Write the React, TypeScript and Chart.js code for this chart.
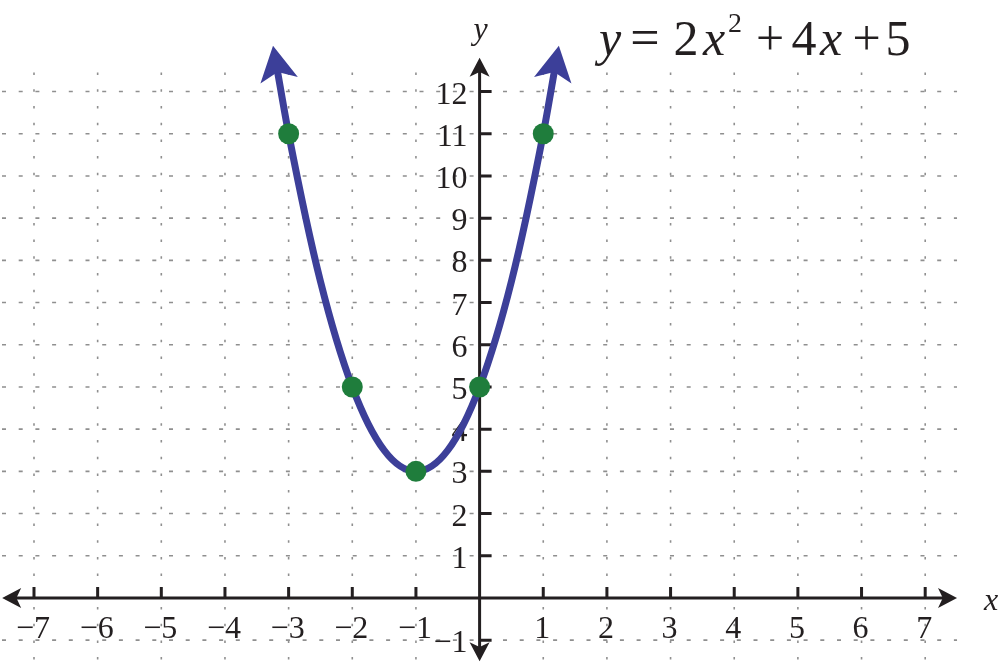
import React, { useEffect, useRef } from "react";
import { Chart, registerables } from "chart.js";

Chart.register(...registerables);

// Curve y = 2x^2 + 4x + 5
const curveX = [-3.2, -3, -2.5, -2, -1.5, -1, -0.5, 0, 0.5, 1, 1.2];
const curveY = [12.7, 11, 7.5, 5, 3.5, 3, 3.5, 5, 7.5, 11, 12.7];

// Marked points
const pointX = [-3, -2, -1, 0, 1];
const pointY = [11, 5, 3, 5, 11];

// Tick labels
const xTicks = [-7, -6, -5, -4, -3, -2, -1, 1, 2, 3, 4, 5, 6, 7];
const yTicks = [-1, 1, 2, 3, 4, 5, 6, 7, 8, 9, 10, 11, 12];
const gridX = [-7, -6, -5, -4, -3, -2, -1, 1, 2, 3, 4, 5, 6, 7];
const gridY = [-1, 1, 2, 3, 4, 5, 6, 7, 8, 9, 10, 11, 12];

const X_MIN = -7.534;
const X_MAX = 8.175;
const Y_MIN = -1.565;
const Y_MAX = 14.17;

const INK = "#231f20";
const BLUE = "#3c3f99";
const GREEN = "#1f7d3c";
const SERIF = '"Liberation Serif", "DejaVu Serif", serif';

function minusify(n: number) {
  return n < 0 ? "\u2212" + Math.abs(n) : String(n);
}

function arrowHead(
  ctx: CanvasRenderingContext2D,
  tx: number,
  ty: number,
  dx: number,
  dy: number,
  L: number,
  W: number,
  notch: number,
  color: string
) {
  const nx = -dy;
  const ny = dx;
  ctx.save();
  ctx.fillStyle = color;
  ctx.beginPath();
  ctx.moveTo(tx, ty);
  ctx.lineTo(tx - dx * L + nx * W, ty - dy * L + ny * W);
  ctx.lineTo(tx - dx * L * notch, ty - dy * L * notch);
  ctx.lineTo(tx - dx * L - nx * W, ty - dy * L - ny * W);
  ctx.closePath();
  ctx.fill();
  ctx.restore();
}

const decorPlugin = {
  id: "decor",
  beforeDatasetsDraw(chart: any) {
    const ctx: CanvasRenderingContext2D = chart.ctx;
    const xs = chart.scales.x;
    const ys = chart.scales.y;
    const px = (v: number) => xs.getPixelForValue(v);
    const py = (v: number) => ys.getPixelForValue(v);

    ctx.save();
    ctx.fillStyle = "#fff";
    ctx.fillRect(0, 0, chart.width, chart.height);

    // grid
    ctx.strokeStyle = "#8f8f8f";
    ctx.lineWidth = 1.6;
    ctx.setLineDash([4, 12.7]);
    for (const g of gridY) {
      ctx.beginPath();
      ctx.moveTo(px(X_MIN) + 2, py(g));
      ctx.lineTo(px(7.5), py(g));
      ctx.stroke();
    }
    ctx.setLineDash([2.5, 14.2]);
    for (const g of gridX) {
      ctx.beginPath();
      ctx.moveTo(px(g), py(12.45));
      ctx.lineTo(px(g), py(Y_MIN));
      ctx.stroke();
    }
    ctx.setLineDash([]);

    // axes
    ctx.strokeStyle = INK;
    ctx.lineWidth = 3;
    ctx.beginPath();
    ctx.moveTo(px(-7.5) + 8, py(0));
    ctx.lineTo(px(7.5) - 8, py(0));
    ctx.moveTo(px(0), py(12.8) + 8);
    ctx.lineTo(px(0), py(-1.5) - 8);
    ctx.stroke();
    arrowHead(ctx, px(7.5), py(0), 1, 0, 19, 10, 0.75, INK);
    arrowHead(ctx, px(-7.5), py(0), -1, 0, 19, 10, 0.75, INK);
    arrowHead(ctx, px(0), py(12.8), 0, -1, 19, 10, 0.75, INK);
    arrowHead(ctx, px(0), py(-1.5), 0, 1, 19, 10, 0.75, INK);

    // ticks
    ctx.lineWidth = 3;
    ctx.beginPath();
    for (const t of xTicks) {
      ctx.moveTo(px(t), py(0));
      ctx.lineTo(px(t), py(0) - 11);
    }
    for (const t of yTicks) {
      ctx.moveTo(px(0), py(t));
      ctx.lineTo(px(0) + 12, py(t));
    }
    ctx.stroke();

    // tick labels
    ctx.fillStyle = INK;
    ctx.font = `32px ${SERIF}`;
    ctx.textBaseline = "alphabetic";
    ctx.textAlign = "center";
    for (const t of xTicks) {
      ctx.fillText(minusify(t), px(t) - 1, py(0) + 40);
    }
    ctx.textAlign = "right";
    for (const t of yTicks) {
      ctx.fillText(minusify(t), px(0) - 12, py(t) + 12);
    }

    // axis names
    ctx.font = `italic 32px ${SERIF}`;
    ctx.textAlign = "center";
    ctx.fillText("x", 991, py(0) + 12);
    ctx.fillText("y", px(0) + 1, 39);

    // equation
    const base = 55;
    const put = (s: string, cx: number, font: string, y = base) => {
      ctx.font = font;
      ctx.textAlign = "center";
      ctx.fillText(s, cx, y);
    };
    const it = `italic 50px ${SERIF}`;
    const up = `50px ${SERIF}`;
    put("y", 610, it);
    put("=", 645, `52px ${SERIF}`);
    put("2", 686, up);
    put("x", 714, it);
    put("2", 735, `28px ${SERIF}`, 32);
    put("+", 770, up);
    put("4", 804, up);
    put("x", 831, it);
    put("+", 866.5, up);
    put("5", 898, up);

    ctx.restore();
  },
  afterDatasetsDraw(chart: any) {
    const ctx: CanvasRenderingContext2D = chart.ctx;
    const meta = chart.getDatasetMeta(1);
    const pts = meta.data;
    const n = pts.length;
    const ends = [
      [pts[1], pts[0]],
      [pts[n - 2], pts[n - 1]],
    ];
    for (const [a, b] of ends) {
      let dx = b.x - a.x;
      let dy = b.y - a.y;
      const len = Math.hypot(dx, dy);
      dx /= len;
      dy /= len;
      const ext = 16.5;
      arrowHead(ctx, b.x + dx * ext, b.y + dy * ext, dx, dy, 35, 19, 0.76, BLUE);
    }
  },
};

export default function App() {
  const ref = useRef<HTMLCanvasElement | null>(null);

  useEffect(() => {
    document.body.style.margin = "0";
    const canvas = ref.current;
    if (!canvas) return;
    const chart = new Chart(canvas, {
      type: "scatter",
      data: {
        datasets: [
          {
            label: "points",
            data: pointX.map((x, i) => ({ x, y: pointY[i] })),
            pointRadius: 10.5,
            pointHoverRadius: 10.5,
            pointBackgroundColor: GREEN,
            pointBorderColor: GREEN,
            pointBorderWidth: 0,
            showLine: false,
            order: 0,
          },
          {
            label: "curve",
            data: curveX.map((x, i) => ({ x, y: curveY[i] })),
            showLine: true,
            borderColor: BLUE,
            borderWidth: 7,
            pointRadius: 0,
            pointHoverRadius: 0,
            cubicInterpolationMode: "monotone",
            fill: false,
            clip: false,
            order: 1,
          },
        ],
      },
      options: {
        responsive: false,
        animation: false,
        devicePixelRatio: 1,
        layout: { padding: 0, autoPadding: false },
        events: [],
        plugins: {
          legend: { display: false },
          tooltip: { enabled: false },
        },
        scales: {
          x: { type: "linear", min: X_MIN, max: X_MAX, display: false },
          y: { type: "linear", min: Y_MIN, max: Y_MAX, display: false },
        },
      },
      plugins: [decorPlugin],
    } as any);
    return () => chart.destroy();
  }, []);

  return (
    <div style={{ position: "fixed", left: 0, top: 0, width: 1000, height: 664, background: "#fff" }}>
      <canvas ref={ref} width={1000} height={664} style={{ display: "block", width: 1000, height: 664 }} />
    </div>
  );
}
